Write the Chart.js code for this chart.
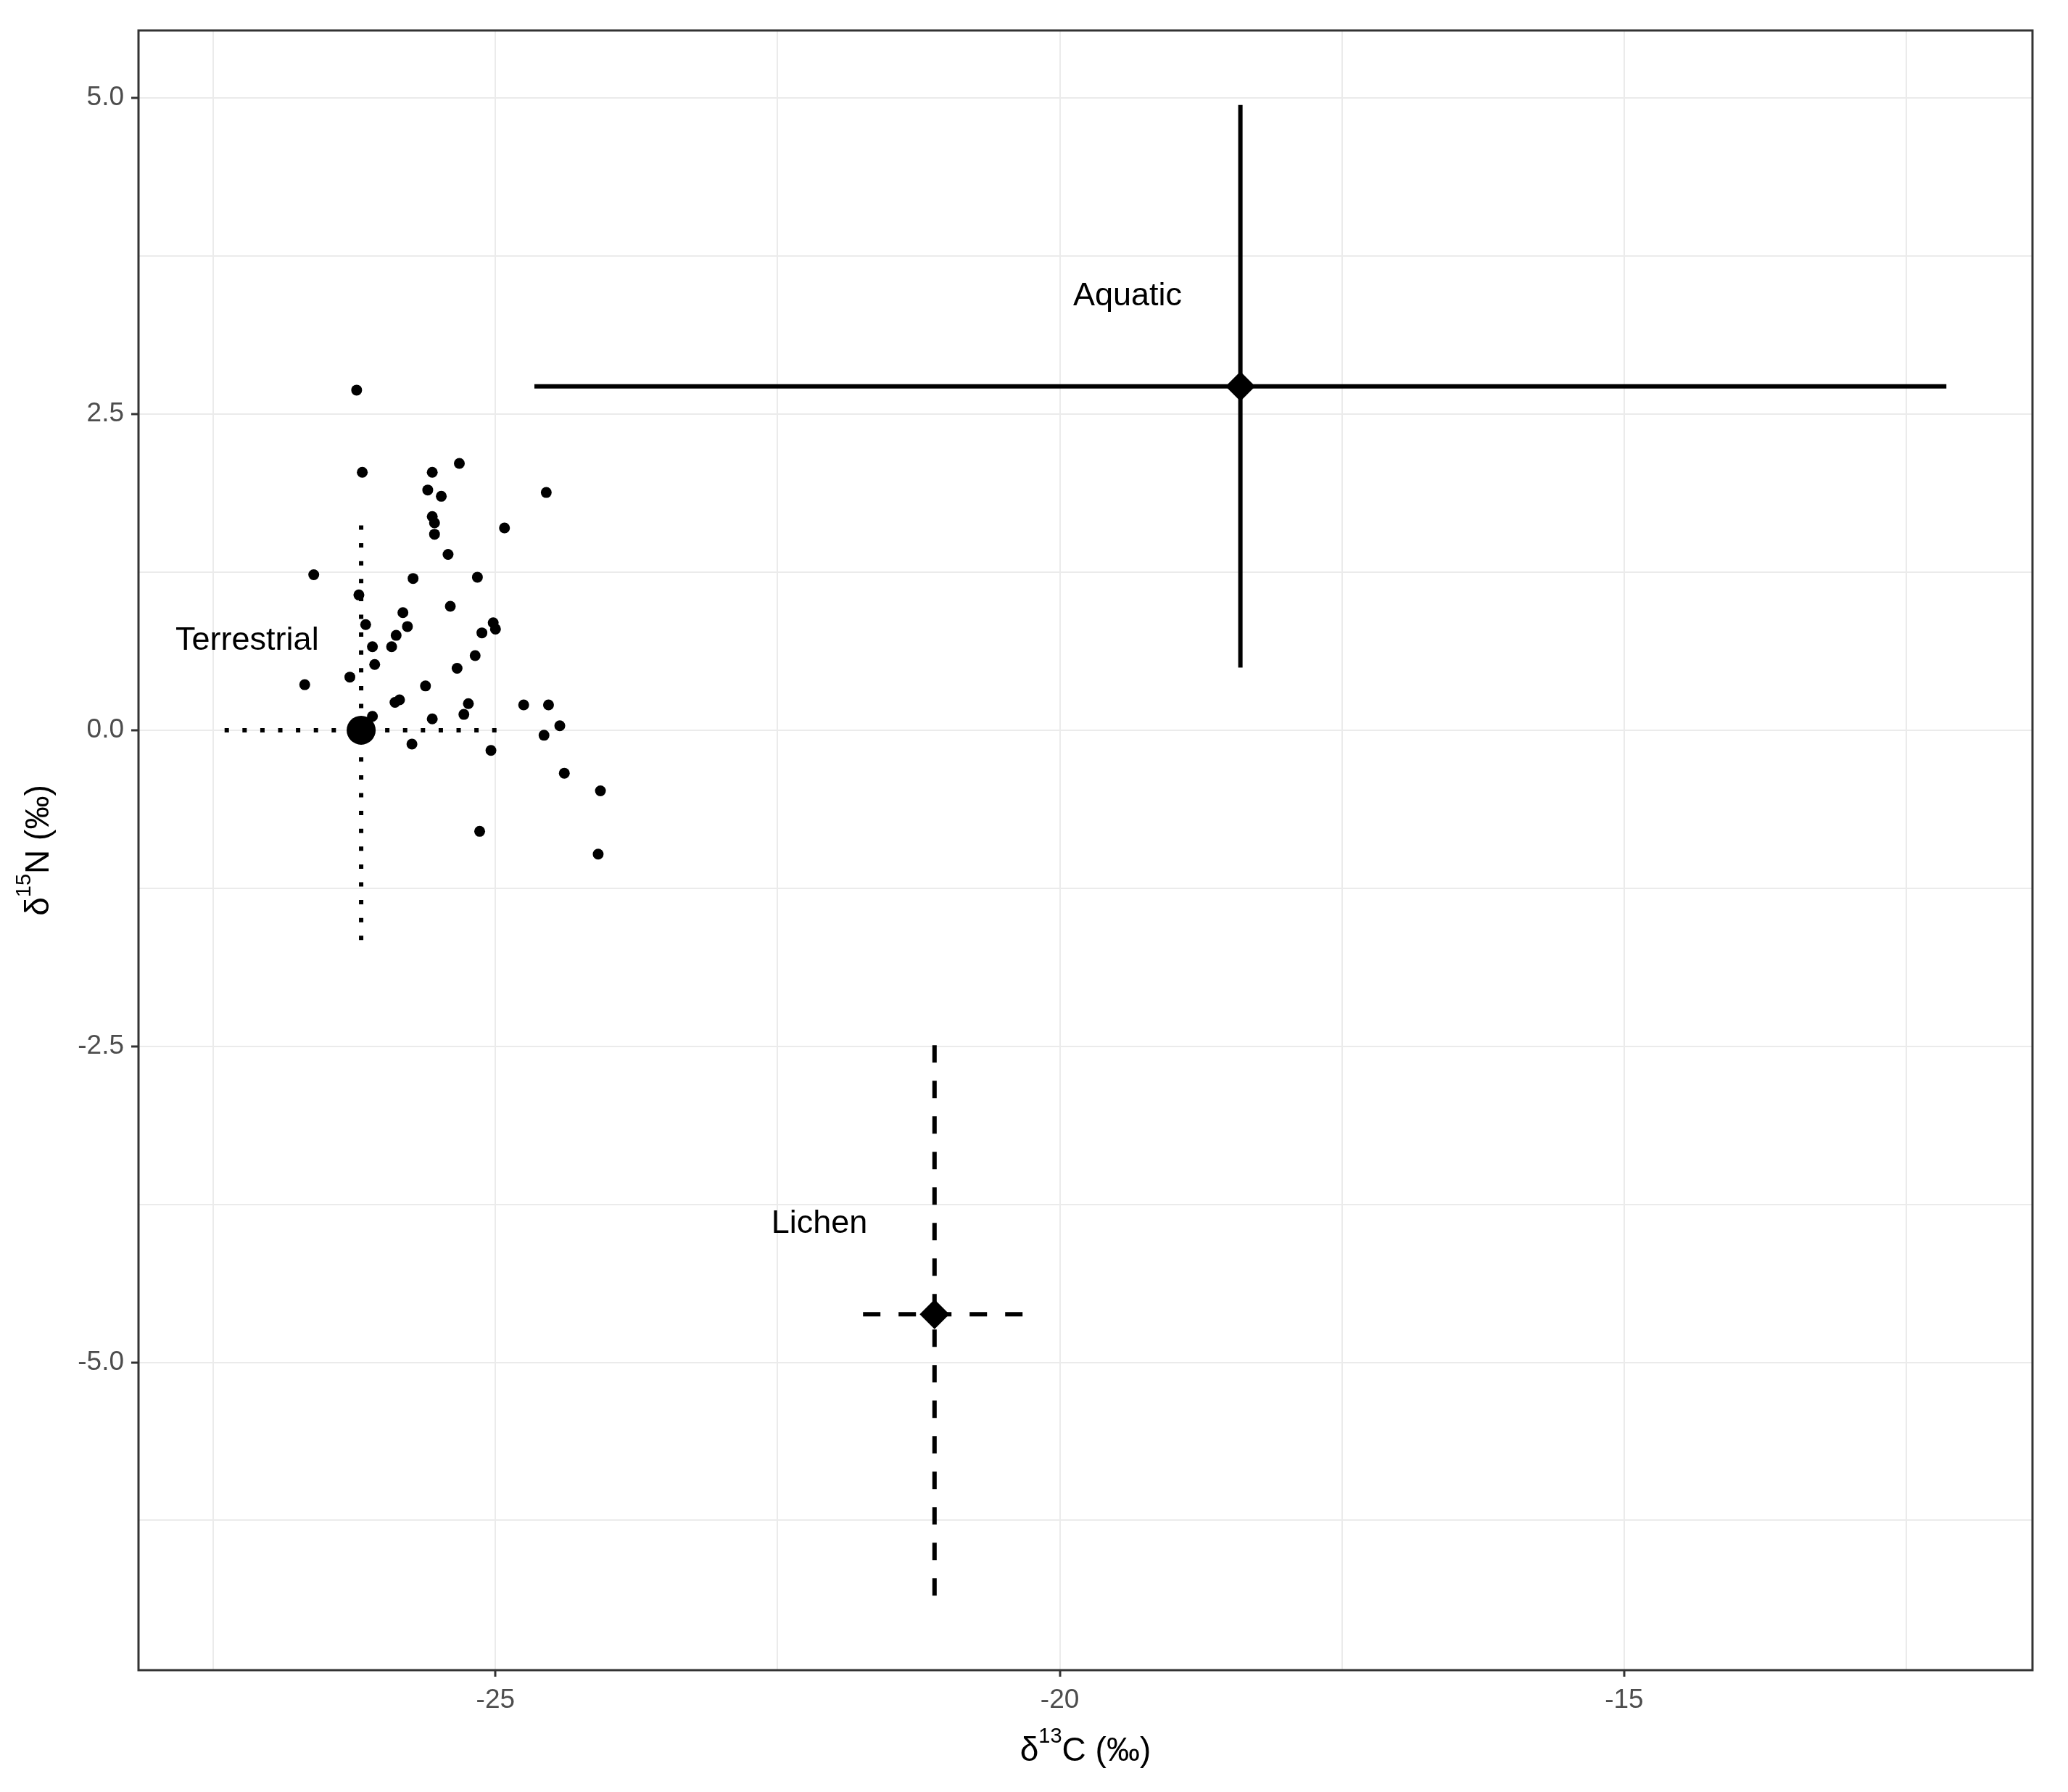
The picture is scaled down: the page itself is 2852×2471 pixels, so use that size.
<!DOCTYPE html>
<html>
<head>
<meta charset="utf-8">
<title>d13C vs d15N</title>
<script src="https://cdn.jsdelivr.net/npm/chart.js"></script>
<style>
  html, body { margin: 0; padding: 0; background: #ffffff; }
  canvas { display: block; }
</style>
</head>
<body>
<canvas id="isoChart" width="2852" height="2471"></canvas>
<script>
        // --- Dados ---
        // terrestrial samples (d13C, d15N)
        const terrX = [-26.23, -26.18, -25.32, -25.56, -25.60, -25.48, -24.55, -25.56, -25.54, -25.54,
                       -24.92, -25.42, -26.61, -25.73, -25.16, -26.21, -25.40, -25.82, -26.15, -25.78,
                       -25.02, -25.00, -25.12, -25.88, -26.09, -25.92, -25.18, -26.07, -25.34, -26.29,
                       -26.69, -25.62, -25.89, -25.85, -25.24, -24.75, -24.53, -26.09, -25.56, -25.28,
                       -24.43, -24.57, -25.74, -25.04, -24.39, -24.07, -25.14, -24.09];
        const terrY = [2.69, 2.04, 2.11, 2.04, 1.90, 1.85, 1.88, 1.69, 1.64, 1.55,
                       1.60, 1.39, 1.23, 1.20, 1.21, 1.07, 0.98, 0.93, 0.835, 0.82,
                       0.85, 0.80, 0.77, 0.75, 0.66, 0.66, 0.59, 0.52, 0.49, 0.42,
                       0.36, 0.35, 0.22, 0.24, 0.21, 0.20, 0.20, 0.11, 0.09, 0.125,
                       0.035, -0.04, -0.11, -0.16, -0.34, -0.48, -0.80, -0.98];

        // group means and sd
        const groupNames = ['Terrestrial', 'Aquatic', 'Lichen'];
        const meanX = [-26.19, -18.40, -21.11];
        const meanY = [0.00, 2.72, -4.62];
        const sdX = [1.21, 6.255, 0.78];
        const sdY = [1.66, 2.225, 2.225];

        // where each group name is written (data units)
        const labelX = [-27.20, -19.40, -22.13];
        const labelY = [0.73, 3.45, -3.886];

        const xTicks = [-25, -20, -15];
        const yTicks = [-5, -2.5, 0, 2.5, 5];
        const xGrid = [-27.5, -25, -22.5, -20, -17.5, -15, -12.5];
        const yGrid = [-6.25, -5, -3.75, -2.5, -1.25, 0, 1.25, 2.5, 3.75, 5];

        // --- Estilos ---
        const groupDash = [[6, 18.6], [], [24, 25]];
        const groupShape = ['circle', 'rectRot', 'rectRot'];
        const groupRadius = [20, 20.5, 20.5];
        const tickFont = { family: "'Liberation Sans', Arial, sans-serif", size: 37 };
        const FONT = "'Liberation Sans', Arial, sans-serif";

        // axis limits like ggplot (5% expansion of the error bar range)
        const loX = Math.min(...meanX.map((m, i) => m - sdX[i]));
        const hiX = Math.max(...meanX.map((m, i) => m + sdX[i]));
        const loY = Math.min(...meanY.map((m, i) => m - sdY[i]));
        const hiY = Math.max(...meanY.map((m, i) => m + sdY[i]));
        const xMin = loX - (hiX - loX) * 0.05, xMax = hiX + (hiX - loX) * 0.05;
        const yMin = loY - (hiY - loY) * 0.05, yMax = hiY + (hiY - loY) * 0.05;

        // --- Datasets ---
        const datasets = [];
        datasets.push({
            label: 'samples',
            data: terrX.map((x, i) => ({ x: x, y: terrY[i] })),
            pointRadius: 7.5, pointBackgroundColor: '#000', pointBorderWidth: 0, showLine: false
        });
        groupNames.forEach((name, i) => {
            // horizontal bar (lichen drawn right to left so the dashes fall like the original)
            const h = [{ x: meanX[i] - sdX[i], y: meanY[i] }, { x: meanX[i] + sdX[i], y: meanY[i] }];
            if (i === 2) h.reverse();
            datasets.push({ label: name + ' x', data: h, showLine: true, pointRadius: 0, borderColor: '#000',
                borderWidth: 6, borderDash: groupDash[i], borderCapStyle: 'butt' });
            datasets.push({ label: name + ' y',
                data: [{ x: meanX[i], y: meanY[i] - sdY[i] }, { x: meanX[i], y: meanY[i] + sdY[i] }],
                showLine: true, pointRadius: 0, borderColor: '#000',
                borderWidth: 6, borderDash: groupDash[i], borderCapStyle: 'butt' });
            datasets.push({ label: name, data: [{ x: meanX[i], y: meanY[i] }], showLine: false,
                pointStyle: groupShape[i], pointRadius: groupRadius[i],
                pointBackgroundColor: '#000', pointBorderWidth: 0 });
        });

        // --- Plugin: moldura, rótulos e títulos ---
        function drawSupTitle(ctx, parts, cx, cy, rot) {
            ctx.save();
            ctx.translate(cx, cy);
            ctx.rotate(rot);
            let total = 0;
            parts.forEach(p => { ctx.font = p.size + 'px ' + FONT; total += ctx.measureText(p.t).width; });
            let x = -total / 2;
            ctx.fillStyle = '#000';
            ctx.textBaseline = 'alphabetic';
            ctx.textAlign = 'left';
            parts.forEach(p => {
                ctx.font = p.size + 'px ' + FONT;
                ctx.fillText(p.t, x, p.dy);
                x += ctx.measureText(p.t).width;
            });
            ctx.restore();
        }

        const decorPlugin = {
            id: 'decor',
            afterDraw(chart) {
                const ctx = chart.ctx;
                const a = chart.chartArea;
                const sx = chart.scales.x, sy = chart.scales.y;
                // panel border
                ctx.save();
                ctx.strokeStyle = '#333333';
                ctx.lineWidth = 3;
                ctx.strokeRect(a.left, a.top, a.right - a.left, a.bottom - a.top);
                // group labels
                ctx.fillStyle = '#000';
                ctx.font = '45px ' + FONT;
                ctx.textAlign = 'center';
                ctx.textBaseline = 'alphabetic';
                groupNames.forEach((name, i) => {
                    ctx.fillText(name, sx.getPixelForValue(labelX[i]), sy.getPixelForValue(labelY[i]) + 16);
                });
                ctx.restore();
                // axis titles
                const midX = (a.left + a.right) / 2, midY = (a.top + a.bottom) / 2;
                drawSupTitle(ctx, [{ t: 'δ', size: 46, dy: 0 }, { t: '13', size: 29, dy: -25 }, { t: 'C (‰)', size: 46, dy: 0 }],
                    midX, 2428, 0);
                drawSupTitle(ctx, [{ t: 'δ', size: 46, dy: 0 }, { t: '15', size: 29, dy: -25 }, { t: 'N (‰)', size: 46, dy: 0 }],
                    67, midY, -Math.PI / 2);
            }
        };

        // --- Gráfico ---
        const ctx = document.getElementById('isoChart').getContext('2d');
        const isoChart = new Chart(ctx, {
            type: 'scatter',
            data: { datasets: datasets },
            options: {
                responsive: false,
                animation: false,
                devicePixelRatio: 1,
                layout: { padding: { top: 42, right: 49, left: 0, bottom: 0 } },
                plugins: { legend: { display: false }, tooltip: { enabled: false } },
                scales: {
                    x: {
                        type: 'linear', min: xMin, max: xMax,
                        afterBuildTicks: s => { s.ticks = xGrid.map(v => ({ value: v })); },
                        afterFit: s => { s.height = 168; },
                        ticks: { autoSkip: false, maxRotation: 0, padding: 11, color: '#4d4d4d', font: tickFont,
                                 callback: v => xTicks.includes(v) ? String(v) : '' },
                        grid: { color: '#ebebeb', lineWidth: 2, tickLength: 9, tickWidth: 3,
                                tickColor: c => xTicks.includes(c.tick.value) ? '#333333' : 'rgba(0,0,0,0)' },
                        border: { display: false }
                    },
                    y: {
                        type: 'linear', min: yMin, max: yMax,
                        afterBuildTicks: s => { s.ticks = yGrid.map(v => ({ value: v })); },
                        afterFit: s => { s.width = 191; },
                        ticks: { autoSkip: false, padding: 10, color: '#4d4d4d', font: tickFont,
                                 callback: v => yTicks.includes(v) ? v.toFixed(1) : '' },
                        grid: { color: '#ebebeb', lineWidth: 2, tickLength: 10, tickWidth: 3,
                                tickColor: c => yTicks.includes(c.tick.value) ? '#333333' : 'rgba(0,0,0,0)' },
                        border: { display: false }
                    }
                }
            },
            plugins: [decorPlugin]
        });
</script>
</body>
</html>
